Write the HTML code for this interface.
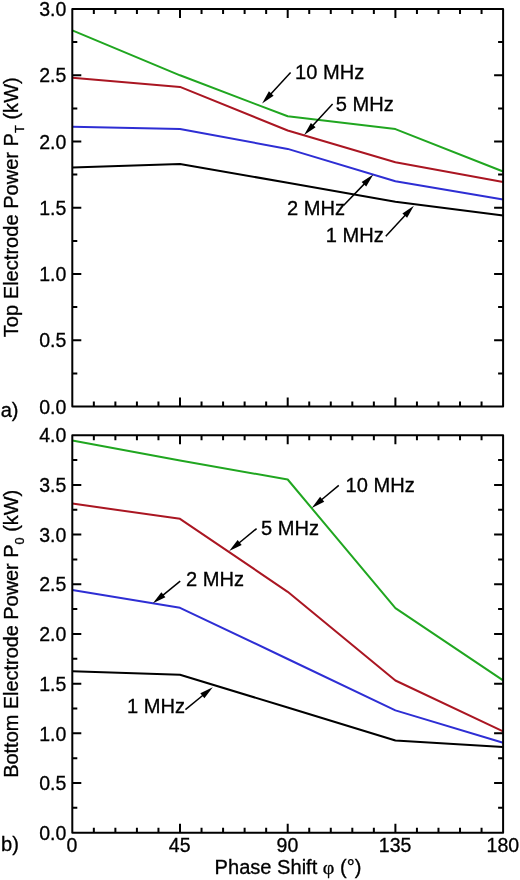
<!DOCTYPE html>
<html><head><meta charset="utf-8"><title>Electrode Power vs Phase Shift</title>
<style>html,body{margin:0;padding:0;background:#fff;}svg{display:block;}text{stroke:#000;stroke-width:0.3px;}</style></head>
<body><svg width="520" height="880" viewBox="0 0 520 880" font-family="'Liberation Sans', Arial, sans-serif" font-size="19.5" fill="#000" stroke="none">
<rect width="520" height="880" fill="#fff"/>
<path d="M93.84 406.5v-5M93.84 9v5M115.38 406.5v-5M115.38 9v5M136.92 406.5v-5M136.92 9v5M158.46 406.5v-5M158.46 9v5M180 406.5v-9M180 9v9M201.54 406.5v-5M201.54 9v5M223.08 406.5v-5M223.08 9v5M244.62 406.5v-5M244.62 9v5M266.16 406.5v-5M266.16 9v5M287.7 406.5v-9M287.7 9v9M309.24 406.5v-5M309.24 9v5M330.78 406.5v-5M330.78 9v5M352.32 406.5v-5M352.32 9v5M373.86 406.5v-5M373.86 9v5M395.4 406.5v-9M395.4 9v9M416.94 406.5v-5M416.94 9v5M438.48 406.5v-5M438.48 9v5M460.02 406.5v-5M460.02 9v5M481.56 406.5v-5M481.56 9v5M72.3 373.38h5M503.1 373.38h-5M72.3 340.25h9M503.1 340.25h-9M72.3 307.12h5M503.1 307.12h-5M72.3 274h9M503.1 274h-9M72.3 240.88h5M503.1 240.88h-5M72.3 207.75h9M503.1 207.75h-9M72.3 174.62h5M503.1 174.62h-5M72.3 141.5h9M503.1 141.5h-9M72.3 108.38h5M503.1 108.38h-5M72.3 75.25h9M503.1 75.25h-9M72.3 42.12h5M503.1 42.12h-5" stroke="#000" stroke-width="2" fill="none"/>
<polyline points="72.3,167.6 180,163.9 287.7,182.8 395.4,201.7 503.1,215.5" stroke="#000000" stroke-width="2" fill="none" stroke-linejoin="round"/>
<polyline points="72.3,126.7 180,129.1 287.7,148.9 395.4,181.2 503.1,199.4" stroke="#2e2ed4" stroke-width="2" fill="none" stroke-linejoin="round"/>
<polyline points="72.3,77.8 180,86.9 287.7,130.5 395.4,162.3 503.1,182" stroke="#aa1622" stroke-width="2" fill="none" stroke-linejoin="round"/>
<polyline points="72.3,30.4 180,75.3 287.7,116.3 395.4,129.1 503.1,171.5" stroke="#20a620" stroke-width="2" fill="none" stroke-linejoin="round"/>
<rect x="72.3" y="9" width="430.8" height="397.5" stroke="#000" stroke-width="2" fill="none" stroke-linejoin="round"/>
<text transform="translate(66.3 413.7) scale(1.0 1)" text-anchor="end">0.0</text>
<text transform="translate(66.3 347.45) scale(1.0 1)" text-anchor="end">0.5</text>
<text transform="translate(66.3 281.2) scale(1.0 1)" text-anchor="end">1.0</text>
<text transform="translate(66.3 214.95) scale(1.0 1)" text-anchor="end">1.5</text>
<text transform="translate(66.3 148.7) scale(1.0 1)" text-anchor="end">2.0</text>
<text transform="translate(66.3 82.45) scale(1.0 1)" text-anchor="end">2.5</text>
<text transform="translate(66.3 16.2) scale(1.0 1)" text-anchor="end">3.0</text>
<path d="M93.84 832.7v-5M93.84 435.2v5M115.38 832.7v-5M115.38 435.2v5M136.92 832.7v-5M136.92 435.2v5M158.46 832.7v-5M158.46 435.2v5M180 832.7v-9M180 435.2v9M201.54 832.7v-5M201.54 435.2v5M223.08 832.7v-5M223.08 435.2v5M244.62 832.7v-5M244.62 435.2v5M266.16 832.7v-5M266.16 435.2v5M287.7 832.7v-9M287.7 435.2v9M309.24 832.7v-5M309.24 435.2v5M330.78 832.7v-5M330.78 435.2v5M352.32 832.7v-5M352.32 435.2v5M373.86 832.7v-5M373.86 435.2v5M395.4 832.7v-9M395.4 435.2v9M416.94 832.7v-5M416.94 435.2v5M438.48 832.7v-5M438.48 435.2v5M460.02 832.7v-5M460.02 435.2v5M481.56 832.7v-5M481.56 435.2v5M72.3 807.86h5M503.1 807.86h-5M72.3 783.01h9M503.1 783.01h-9M72.3 758.17h5M503.1 758.17h-5M72.3 733.33h9M503.1 733.33h-9M72.3 708.48h5M503.1 708.48h-5M72.3 683.64h9M503.1 683.64h-9M72.3 658.79h5M503.1 658.79h-5M72.3 633.95h9M503.1 633.95h-9M72.3 609.11h5M503.1 609.11h-5M72.3 584.26h9M503.1 584.26h-9M72.3 559.42h5M503.1 559.42h-5M72.3 534.58h9M503.1 534.58h-9M72.3 509.73h5M503.1 509.73h-5M72.3 484.89h9M503.1 484.89h-9M72.3 460.04h5M503.1 460.04h-5" stroke="#000" stroke-width="2" fill="none"/>
<polyline points="72.3,671.3 180,674.8 287.7,707.5 395.4,740.5 503.1,746.9" stroke="#000000" stroke-width="2" fill="none" stroke-linejoin="round"/>
<polyline points="72.3,589.9 180,607.8 287.7,659 395.4,710.4 503.1,742.7" stroke="#2e2ed4" stroke-width="2" fill="none" stroke-linejoin="round"/>
<polyline points="72.3,503.6 180,518.8 287.7,591.8 395.4,680.5 503.1,731.3" stroke="#aa1622" stroke-width="2" fill="none" stroke-linejoin="round"/>
<polyline points="72.3,440.5 180,460.5 287.7,479.5 395.4,608.2 503.1,680.4" stroke="#20a620" stroke-width="2" fill="none" stroke-linejoin="round"/>
<rect x="72.3" y="435.2" width="430.8" height="397.5" stroke="#000" stroke-width="2" fill="none" stroke-linejoin="round"/>
<text transform="translate(66.3 839.9) scale(1.0 1)" text-anchor="end">0.0</text>
<text transform="translate(66.3 790.21) scale(1.0 1)" text-anchor="end">0.5</text>
<text transform="translate(66.3 740.53) scale(1.0 1)" text-anchor="end">1.0</text>
<text transform="translate(66.3 690.84) scale(1.0 1)" text-anchor="end">1.5</text>
<text transform="translate(66.3 641.15) scale(1.0 1)" text-anchor="end">2.0</text>
<text transform="translate(66.3 591.46) scale(1.0 1)" text-anchor="end">2.5</text>
<text transform="translate(66.3 541.78) scale(1.0 1)" text-anchor="end">3.0</text>
<text transform="translate(66.3 492.09) scale(1.0 1)" text-anchor="end">3.5</text>
<text transform="translate(66.3 442.4) scale(1.0 1)" text-anchor="end">4.0</text>
<text transform="translate(72 851.5) scale(1.0 1)" text-anchor="middle">0</text>
<text transform="translate(179.7 851.5) scale(1.0 1)" text-anchor="middle">45</text>
<text transform="translate(287.4 851.5) scale(1.0 1)" text-anchor="middle">90</text>
<text transform="translate(395.1 851.5) scale(1.0 1)" text-anchor="middle">135</text>
<text transform="translate(502.8 851.5) scale(1.0 1)" text-anchor="middle">180</text>
<path d="M290.6 72.5L269.9 94.95" stroke="#000" stroke-width="1.5" fill="none"/>
<path d="M262.1 103.4L268.9 91.31L273.61 95.65Z" fill="#000"/>
<path d="M332.6 104L311.88 126.53" stroke="#000" stroke-width="1.5" fill="none"/>
<path d="M304.1 135L310.88 122.9L315.59 127.23Z" fill="#000"/>
<path d="M343.5 205.4L365.3 182.86" stroke="#000" stroke-width="1.5" fill="none"/>
<path d="M373.3 174.6L366.21 186.53L361.61 182.08Z" fill="#000"/>
<path d="M385.8 236.2L406.11 214.16" stroke="#000" stroke-width="1.5" fill="none"/>
<path d="M413.9 205.7L407.11 217.8L402.4 213.46Z" fill="#000"/>
<path d="M338.8 485.4L320.63 500.54" stroke="#000" stroke-width="1.5" fill="none"/>
<path d="M311.8 507.9L320.12 496.8L324.22 501.72Z" fill="#000"/>
<path d="M256.6 528.6L238.1 543.72" stroke="#000" stroke-width="1.5" fill="none"/>
<path d="M229.2 551L237.63 539.98L241.68 544.93Z" fill="#000"/>
<path d="M180.2 581.2L161.84 596.06" stroke="#000" stroke-width="1.5" fill="none"/>
<path d="M152.9 603.3L161.38 592.32L165.41 597.29Z" fill="#000"/>
<path d="M185.4 709.6L203.9 694.48" stroke="#000" stroke-width="1.5" fill="none"/>
<path d="M212.8 687.2L204.37 698.22L200.32 693.27Z" fill="#000"/>
<text transform="translate(295.07 78.8) scale(1.03 1)">10 MHz</text>
<text transform="translate(335.7 110.5) scale(1.03 1)">5 MHz</text>
<text transform="translate(287.09 214.7) scale(1.03 1)">2 MHz</text>
<text transform="translate(325.77 241.9) scale(1.03 1)">1 MHz</text>
<text transform="translate(345.57 491.9) scale(1.03 1)">10 MHz</text>
<text transform="translate(261.1 534.7) scale(1.03 1)">5 MHz</text>
<text transform="translate(185.99 585.7) scale(1.03 1)">2 MHz</text>
<text transform="translate(126.97 712.6) scale(1.03 1)">1 MHz</text>
<text transform="translate(288 874) scale(1.03 1)" text-anchor="middle">Phase Shift <tspan font-family="Liberation Serif">φ</tspan> (°)</text>
<text transform="translate(17.9 207.2) rotate(-90) scale(1.03 1)" text-anchor="middle" font-size="19.5">Top Electrode Power P<tspan font-size="12.5" dy="6.3">T</tspan><tspan dy="-6.3"> (kW)</tspan></text>
<text transform="translate(17.9 633.8) rotate(-90) scale(1.021 1)" text-anchor="middle" font-size="19.5">Bottom Electrode Power P<tspan font-size="12.5" dy="6.3">0</tspan><tspan dy="-6.3"> (kW)</tspan></text>
<text transform="translate(0.65 417) scale(1.03 1)">a)</text>
<text transform="translate(1.01 851.3) scale(1.03 1)">b)</text>
</svg></body></html>
